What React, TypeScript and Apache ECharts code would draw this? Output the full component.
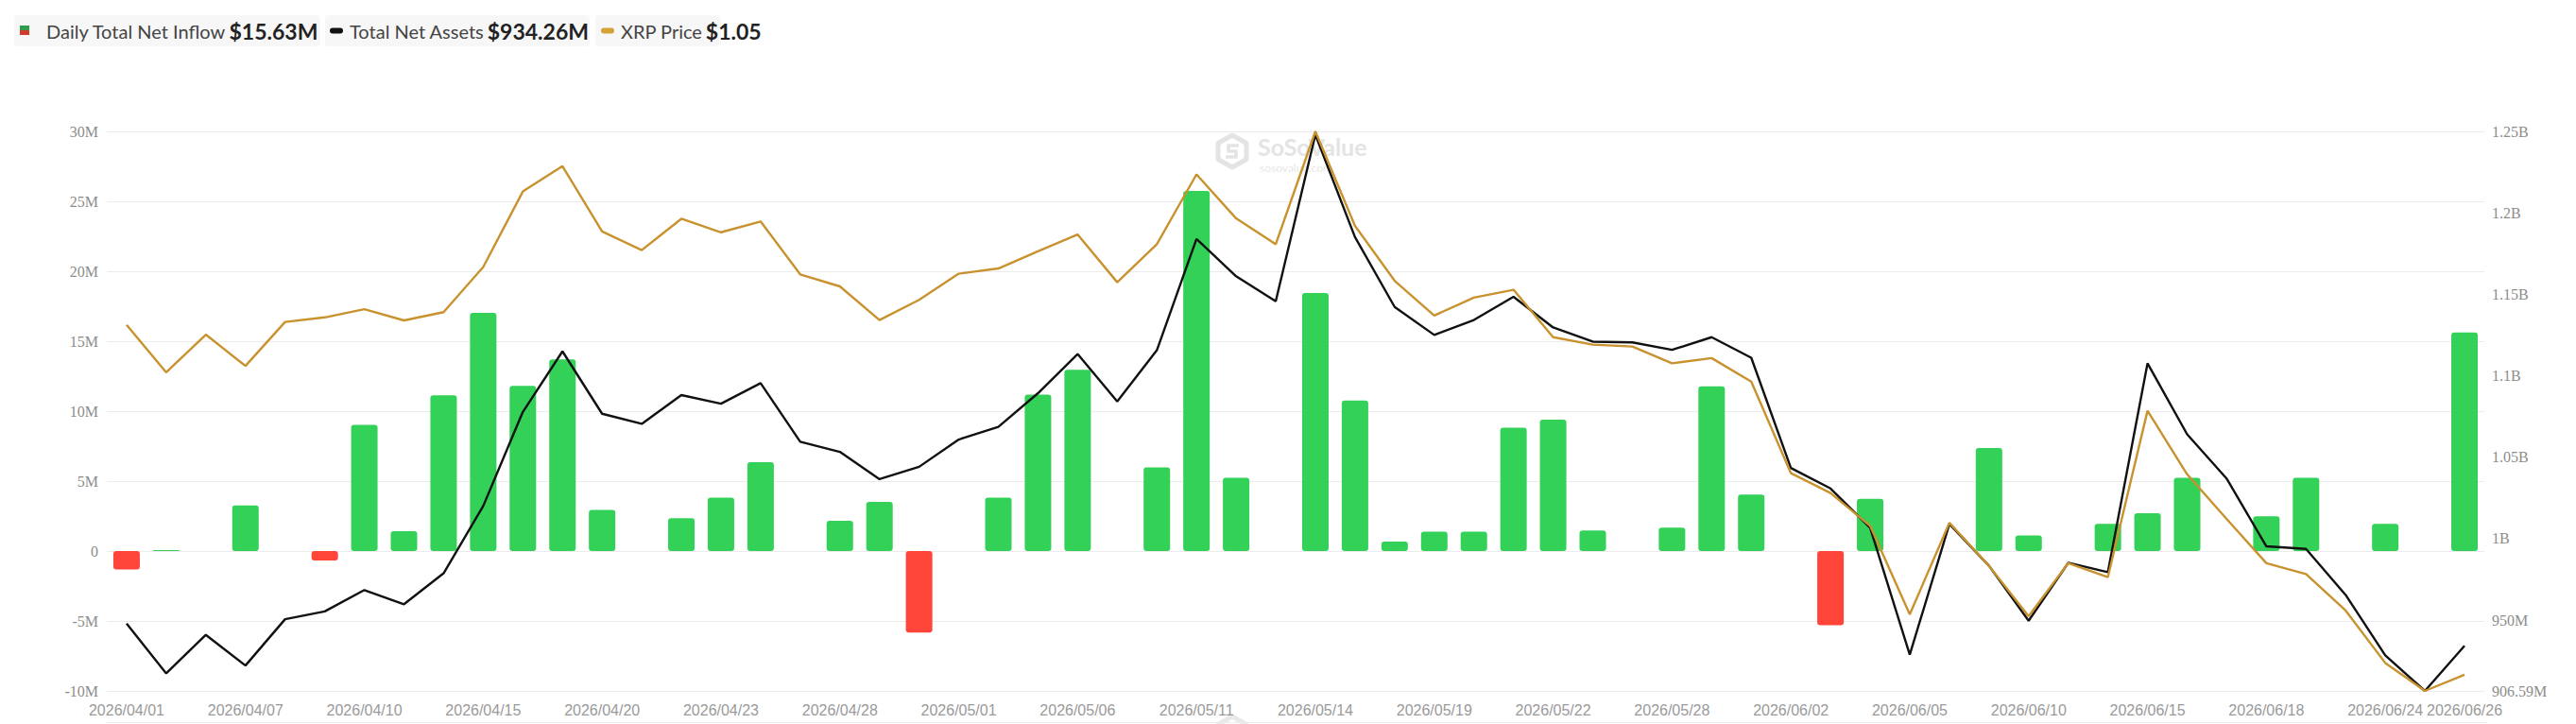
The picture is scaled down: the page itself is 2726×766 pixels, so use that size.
import React, { useEffect, useRef } from "react";
import * as echarts from "echarts";

const dates = [
  "2026/04/01", "2026/04/02", "2026/04/06", "2026/04/07", "2026/04/08", "2026/04/09", "2026/04/10",
  "2026/04/13", "2026/04/14", "2026/04/15", "2026/04/16", "2026/04/17", "2026/04/20", "2026/04/21",
  "2026/04/22", "2026/04/23", "2026/04/24", "2026/04/27", "2026/04/28", "2026/04/29", "2026/04/30",
  "2026/05/01", "2026/05/04", "2026/05/05", "2026/05/06", "2026/05/07", "2026/05/08", "2026/05/11",
  "2026/05/12", "2026/05/13", "2026/05/14", "2026/05/15", "2026/05/18", "2026/05/19", "2026/05/20",
  "2026/05/21", "2026/05/22", "2026/05/26", "2026/05/27", "2026/05/28", "2026/05/29", "2026/06/01",
  "2026/06/02", "2026/06/03", "2026/06/04", "2026/06/05", "2026/06/08", "2026/06/09", "2026/06/10",
  "2026/06/11", "2026/06/12", "2026/06/15", "2026/06/16", "2026/06/17", "2026/06/18", "2026/06/22",
  "2026/06/23", "2026/06/24", "2026/06/25", "2026/06/26",
];

// Daily total net inflow, millions USD
const netInflowM = [
  -1.31, 0.06, 0, 3.26, 0, -0.67, 9.02, 1.42, 11.13, 17.03, 11.8, 13.7, 2.94, 0, 2.35, 3.82, 6.35, 0,
  2.16, 3.52, -5.82, 0, 3.82, 11.19, 12.95, 0, 5.98, 25.74, 5.23, 0, 18.45, 10.76, 0.67, 1.39, 1.39,
  8.81, 9.4, 1.47, 0, 1.68, 11.77, 4.03, 0, -5.31, 3.74, 0, 0, 7.37, 1.12, 0, 1.95, 2.7, 5.23, 0, 2.48,
  5.23, 0, 1.95, 0, 15.63,
];

// Total net assets, millions USD
const netAssetsM = [
  947.86, 917.36, 940.98, 922.18, 950.61, 955.42, 968.49, 959.78, 978.8, 1020.07, 1077.84, 1114.98,
  1076.69, 1070.5, 1088.16, 1082.88, 1095.49, 1059.5, 1053.31, 1036.57, 1044.14, 1060.88, 1068.67,
  1089.3, 1113.37, 1084.26, 1115.67, 1183.98, 1161.06, 1145.7, 1248.0, 1185.13, 1142.26, 1125.07,
  1134.24, 1148.45, 1129.65, 1120.94, 1120.48, 1115.9, 1123.69, 1111.08, 1043.45, 1030.84, 1006.77,
  928.83, 1009.06, 983.39, 949.69, 985.22, 979.49, 1107.64, 1064.08, 1036.8, 995.31, 993.71, 965.51,
  928.37, 906.59, 934.26,
];

// XRP price, USD
const xrpPrice = [
  1.3526, 1.3116, 1.3442, 1.3171, 1.3552, 1.3591, 1.3662, 1.3565, 1.3636, 1.4027, 1.468, 1.4899,
  1.4334, 1.4173, 1.4444, 1.4327, 1.4421, 1.3963, 1.3859, 1.3568, 1.3743, 1.3969, 1.4014, 1.4163,
  1.4308, 1.3895, 1.4224, 1.4828, 1.4447, 1.4224, 1.52, 1.4383, 1.3908, 1.3607, 1.3762, 1.383, 1.342,
  1.3355, 1.3339, 1.3194, 1.3239, 1.3035, 1.2244, 1.2072, 1.1788, 1.1022, 1.1814, 1.1442, 1.1006,
  1.1465, 1.1345, 1.2783, 1.2234, 1.1846, 1.1465, 1.1371, 1.1055, 1.0602, 1.036, 1.05,
];

const leftAxisRangeM = [-10, 30];
const leftAxisStepM = 5;
const rightAxisMaxM = 1250;
const rightAxisStepM = 50;

const GREEN = "#34d158";
const RED = "#ff453a";
const GOLD = "#c8922e";
const BLACK = "#111111";
const SERIF = "'Liberation Serif', 'Times New Roman', Times, serif";

function fmtRight(v: number): string {
  if (v >= 1e9) return parseFloat((v / 1e9).toFixed(2)) + "B";
  return parseFloat((v / 1e6).toFixed(2)) + "M";
}
function fmtLeft(v: number): string {
  if (v === 0) return "0";
  return parseFloat((v / 1e6).toFixed(2)) + "M";
}

export default function App() {
  const ref = useRef<HTMLDivElement>(null);

  useEffect(() => {
    if (!ref.current) return;
    const chart = echarts.init(ref.current, undefined, { renderer: "svg" });

    const lastInflow = netInflowM[netInflowM.length - 1];
    const lastAssets = netAssetsM[netAssetsM.length - 1];
    const lastPrice = xrpPrice[xrpPrice.length - 1];
    const naMin = Math.round(Math.min(...netAssetsM) * 1e6);

    const legendFont = "Lato";
    const rich = {
      l: { fontFamily: legendFont, fontSize: 20, fill: "#444", verticalAlign: "middle" },
      v: { fontFamily: legendFont, fontSize: 23, fontWeight: "bold", fill: "#222", verticalAlign: "middle" },
    };
    const graphic: any[] = [
      // legend item 1
      { type: "rect", shape: { x: 15, y: 16, width: 324, height: 33, r: 4 }, style: { fill: "#f7f7f7" }, silent: true },
      { type: "rect", shape: { x: 21, y: 27, width: 10, height: 5 }, style: { fill: "#2f9d4c" } },
      { type: "rect", shape: { x: 21, y: 32, width: 10, height: 5 }, style: { fill: "#d23a2c" } },
      {
        type: "text", x: 49, y: 33,
        style: { text: "{l|Daily Total Net Inflow} {v|$" + lastInflow.toFixed(2) + "M}", verticalAlign: "middle", rich },
      },
      // legend item 2
      { type: "rect", shape: { x: 344, y: 16, width: 280, height: 33, r: 4 }, style: { fill: "#f7f7f7" }, silent: true },
      { type: "rect", shape: { x: 349, y: 29.5, width: 14, height: 6, r: 3 }, style: { fill: BLACK } },
      {
        type: "text", x: 370, y: 33,
        style: { text: "{l|Total Net Assets} {v|$" + lastAssets.toFixed(2) + "M}", verticalAlign: "middle", rich },
      },
      // legend item 3
      { type: "rect", shape: { x: 630, y: 16, width: 133, height: 33, r: 4 }, style: { fill: "#f7f7f7" }, silent: true },
      { type: "rect", shape: { x: 636, y: 29.5, width: 14, height: 6, r: 3 }, style: { fill: "#d6a236" } },
      {
        type: "text", x: 657, y: 33,
        style: { text: "{l|XRP Price} {v|$" + lastPrice.toFixed(2) + "}", verticalAlign: "middle", rich },
      },
      // watermark top
      {
        type: "polygon", silent: true,
        shape: { points: [[1304, 143], [1319, 151.5], [1319, 168.5], [1304, 177], [1289, 168.5], [1289, 151.5]] },
        style: { fill: "none", stroke: "#e4e4e4", lineWidth: 5, lineJoin: "round" },
      },
      {
        type: "polyline", silent: true,
        shape: { points: [[1311, 154], [1300, 154], [1300, 160], [1308, 160], [1308, 166], [1297, 166]] },
        style: { fill: "none", stroke: "#e4e4e4", lineWidth: 3.5 },
      },
      {
        type: "text", x: 1331, y: 155, silent: true,
        style: { text: "SoSoValue", fontFamily: "Lato", fontWeight: "bold", fontSize: 25, fill: "#e4e4e4", verticalAlign: "middle" },
      },
      {
        type: "text", x: 1333, y: 177, silent: true,
        style: { text: "sosovalue.com", fontFamily: "Lato", fontSize: 12, fill: "#e8e8e8", verticalAlign: "middle" },
      },
      // watermark bottom (cut off by the page edge)
      {
        type: "polygon", silent: true,
        shape: { points: [[1304, 758], [1319, 766.5], [1319, 783.5], [1304, 792], [1289, 783.5], [1289, 766.5]] },
        style: { fill: "none", stroke: "#e8e8e8", lineWidth: 5, lineJoin: "round" },
      },
      // bottom separator
      {
        type: "line", silent: true,
        shape: { x1: 113, y1: 764.5, x2: 2632, y2: 764.5 },
        style: { stroke: "#ececec", lineWidth: 1 },
      },
    ];

    const option: any = {
      animation: false,
      backgroundColor: "#ffffff",
      grid: { left: 113, right: 97, top: 139, bottom: 35, containLabel: false },
      xAxis: {
        type: "category",
        data: dates,
        boundaryGap: true,
        axisLine: { show: false },
        axisTick: { show: false },
        axisLabel: {
          interval: (i: number) => i % 3 === 0 || i === dates.length - 1,
          color: "#9a9a9a",
          fontFamily: "'Liberation Sans', Arial, sans-serif",
          fontSize: 16,
          margin: 12,
        },
      },
      yAxis: [
        {
          type: "value",
          position: "left",
          min: leftAxisRangeM[0] * 1e6,
          max: leftAxisRangeM[1] * 1e6,
          interval: leftAxisStepM * 1e6,
          axisLine: { show: false },
          axisTick: { show: false },
          axisLabel: { formatter: fmtLeft, color: "#8c8c8c", fontFamily: SERIF, fontSize: 16, margin: 9 },
          splitLine: { show: true, lineStyle: { color: "#ebebeb", width: 1.2 } },
        },
        {
          type: "value",
          position: "right",
          min: naMin,
          max: rightAxisMaxM * 1e6,
          minInterval: rightAxisStepM * 1e6,
          maxInterval: rightAxisStepM * 1e6,
          axisLine: { show: false },
          axisTick: { show: false },
          axisLabel: { formatter: fmtRight, color: "#8c8c8c", fontFamily: SERIF, fontSize: 16, margin: 8, showMinLabel: true, showMaxLabel: true },
          splitLine: { show: false },
        },
        {
          type: "value",
          show: false,
          min: "dataMin",
          max: "dataMax",
          splitLine: { show: false },
        },
      ],
      series: [
        {
          name: "Daily Total Net Inflow",
          type: "bar",
          yAxisIndex: 0,
          barWidth: 28,
          data: netInflowM.map((v) => ({
            value: v * 1e6,
            itemStyle: { color: v >= 0 ? GREEN : RED, borderRadius: 3 },
          })),
          z: 2,
        },
        {
          name: "Total Net Assets",
          type: "line",
          yAxisIndex: 1,
          data: netAssetsM.map((v) => Math.round(v * 1e6)),
          symbol: "none",
          showSymbol: false,
          lineStyle: { color: BLACK, width: 2.4 },
          itemStyle: { color: BLACK },
          z: 3,
        },
        {
          name: "XRP Price",
          type: "line",
          yAxisIndex: 2,
          data: xrpPrice,
          symbol: "none",
          showSymbol: false,
          lineStyle: { color: GOLD, width: 2.4 },
          itemStyle: { color: GOLD },
          z: 4,
        },
      ],
      graphic,
    };

    chart.setOption(option);
    return () => chart.dispose();
  }, []);

  return (
    <div
      ref={ref}
      style={{ position: "absolute", left: 0, top: 0, width: 2726, height: 766, background: "#fff" }}
    />
  );
}
